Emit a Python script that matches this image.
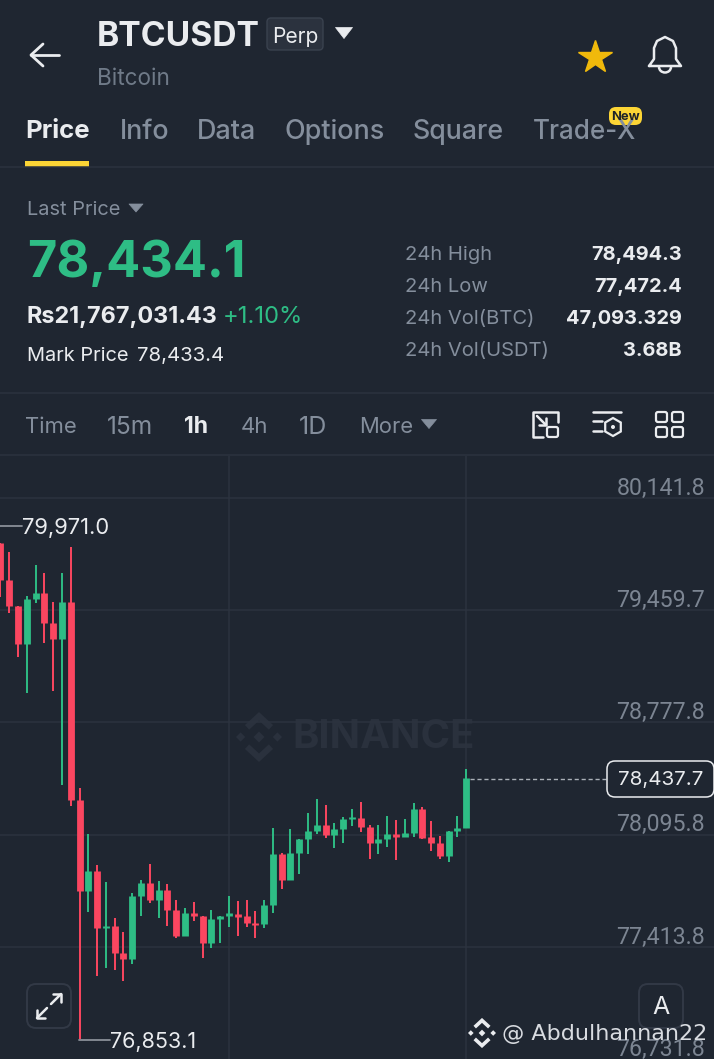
import numpy as np, pandas as pd, seaborn as sns
import matplotlib
matplotlib.use("Agg")
import matplotlib.pyplot as plt
from matplotlib.patches import FancyBboxPatch, Polygon, Circle, Rectangle, Arc

# ---------- data ----------
opens = [79868,79643,79486,79255,79528,79564,79382,79285,79510,78307,77754,77875,77529,77541,77377,77341,77723,77803,77699,77760,77638,77481,77620,77602,77438,77584,77602,77614,77602,77559,77553,77669,77979,77821,77985,78070,78118,78155,78094,78131,78191,78197,78143,78046,78070,78100,78082,78106,78252,78082,78046,77966,78118,78137]
closes = [79643,79486,79255,79528,79564,79382,79285,79510,78307,77754,77875,77529,77541,77377,77341,77723,77803,77699,77760,77638,77481,77620,77602,77438,77584,77602,77620,77596,77559,77547,77669,77979,77821,77985,78070,78118,78155,78094,78131,78191,78203,78143,78046,78070,78100,78082,78106,78252,78076,78046,77966,78118,78137,78437.7]
highs = [79868,79814,79486,79546,79735,79686,79510,79686,79844,78380,78100,77912,77809,77590,77505,77742,77821,77918,77815,77797,77699,77650,77687,77602,77638,77602,77723,77693,77699,77632,77699,78137,77985,78131,78070,78228,78313,78276,78167,78203,78252,78295,78155,78155,78209,78185,78191,78288,78264,78179,78088,78118,78209,78495]
lows = [79540,79443,79176,78957,79504,79261,78969,78398,78270,76853.1,77626,77237,77286,77274,77207,77310,77602,77681,77590,77541,77468,77481,77572,77347,77408,77438,77535,77481,77535,77468,77529,77620,77766,77821,77857,77979,78100,78076,78015,78046,78149,78112,77948,77979,78021,77942,78082,78082,78070,77997,77948,77930,78082,78137]
tick_prices = [80141.8,79459.7,78777.8,78095.8,77413.8,76731.8]
tick_labels = ["80,141.8","79,459.7","78,777.8","78,095.8","77,413.8","76,731.8"]
vgrid_candles = [26,53]
timeframes = ["Time","15m","1h","4h","1D","More"]
tabs = ["Price","Info","Data","Options","Square","Trade-X"]
stat_names = ["24h High","24h Low","24h Vol(BTC)","24h Vol(USDT)"]
stat_values = ["78,494.3","77,472.4","47,093.329","3.68B"]

# ---------- colours ----------
BG="#1f2631"; GREEN="#2ebd85"; RED="#fb4660"; GRID="#2c333f"; GRAY="#848e9c"; WHITE="#eaecef"; YEL="#fcd535"

sns.set_theme(style="dark", rc={"axes.facecolor":BG,"figure.facecolor":BG})
plt.rcParams['font.family']=['Inter','DejaVu Sans']

W,H=714,1059
fig=plt.figure(figsize=(W/100,H/100),dpi=100,facecolor=BG)
TOP=456
under=fig.add_axes([0,0,1,1],facecolor='none',zorder=0); under.set_xlim(0,W); under.set_ylim(H,0); under.axis('off')
ax=fig.add_axes([0,0,1,(H-TOP)/H],facecolor='none',zorder=1)
ui=fig.add_axes([0,0,1,1],facecolor='none',zorder=2); ui.set_xlim(0,W); ui.set_ylim(H,0); ui.axis('off')

# ---------- candles through seaborn ----------
n=len(opens)
df=pd.DataFrame(dict(i=range(n),o=opens,c=closes,h=highs,l=lows))
df['dir']=np.where(df.c>=df.o,'up','down')
wick=pd.concat([df.assign(price=df.h),df.assign(price=df.l)])
body=pd.concat([df.assign(price=df.o),df.assign(price=df.c)])
pal={'up':GREEN,'down':RED}
sns.lineplot(data=wick,x='i',y='price',hue='dir',units='i',estimator=None,palette=pal,lw=1.4,legend=False,ax=ax,sort=False,zorder=3,solid_capstyle='butt')
sns.lineplot(data=body,x='i',y='price',hue='dir',units='i',estimator=None,palette=pal,lw=4.9,legend=False,ax=ax,sort=False,zorder=4,solid_capstyle='butt')

px=8.79
ax.set_xlim(-0.4/px,(W-0.4)/px)
ax.set_ylim(76733.2,80397)
ax.set_xticks(vgrid_candles); ax.set_yticks(tick_prices[:-1])
ax.set_xticklabels([]); ax.set_yticklabels([]); ax.set_xlabel(''); ax.set_ylabel('')
ax.tick_params(length=0)
ax.grid(True,color=GRID,lw=1.1); ax.set_axisbelow(True)
sns.despine(ax=ax,left=True,bottom=True,top=True,right=True)

for p,l in zip(tick_prices,tick_labels):
    ax.annotate(l,xy=(1,p),xycoords=('axes fraction','data'),xytext=(-9,10),textcoords='offset pixels',ha='right',va='center',color='#7c8592',fontsize=16.7,family='Roboto',annotation_clip=False,zorder=6)

# ---------- helper ----------
def T(x,y,s,size,c=WHITE,w='normal',ha='left',**k):
    return ui.text(x,y+2,s,fontsize=size*0.72,color=c,fontweight=w,ha=ha,va='center',**k)
def rbox(x0,y0,x1,y1,r,ec,fc='none',lw=1.2,**k):
    ui.add_patch(FancyBboxPatch((x0+r,y0+r),x1-x0-2*r,y1-y0-2*r,boxstyle=f"round,pad={r},rounding_size={r}",ec=ec,fc=fc,lw=lw,**k))
def line(xs,ys,c=WHITE,lw=1.5,**k):
    ui.plot(xs,ys,color=c,lw=lw,solid_capstyle='round',**k)
def tri(x,y,w,h,c):
    ui.add_patch(Polygon([(x-w/2,y-h/2),(x+w/2,y-h/2),(x,y+h/2)],fc=c,ec=c,lw=.5,joinstyle='round'))
def logo(a,cx,cy,s,c,lw,**k):
    """Binance mark: two chevrons, side and centre diamonds (s = half extent in px)."""
    for sg in (-1,1):
        a.plot([cx-.52*s,cx,cx+.52*s],[cy+sg*.42*s,cy+sg*.9*s,cy+sg*.42*s],color=c,lw=lw,solid_joinstyle='miter',solid_capstyle='butt',**k)
    for dx,dy,r in [(-.8,0,.2),(.8,0,.2),(0,0,.24)]:
        a.add_patch(Polygon([(cx+dx*s-r*s,cy),(cx+dx*s,cy-r*s),(cx+dx*s+r*s,cy),(cx+dx*s,cy+r*s)],fc=c,ec='none',**k))

# ---------- header ----------
line([31,59],[55,55],lw=2); line([43,31,43],[44,55,66],lw=2)
T(97,35,"BTCUSDT",33.6,w='bold')
rbox(267,18,323,50,4,'#3a424f','#2b323e',1)
T(295,35,"Perp",21,ha='center')
tri(344,33,17,11,WHITE)
T(97,77,"Bitcoin",22.5,'#6f7a88')
ui.plot([595],[57],marker='*',ms=25,color='#f0b90b',mec='#f0b90b',zorder=5)
bx=[649,654,654,657,665,673,676,676,681,649]; by=[66,59,48,41,37,41,48,59,66,66]
line(bx,by,lw=1.8); ui.add_patch(Arc((665,67),12,11,theta1=0,theta2=180,ec=WHITE,lw=1.8))
for x,s,c,sz in zip([25,120,197,285,413,533],tabs,[WHITE]+[GRAY]*5,[25.8,26.8,27,26.9,26.8,26]):
    T(x,130,s,sz,c,'bold' if c==WHITE else 'medium')
ui.add_patch(Rectangle((25,161),64,6,fc=YEL,ec='none'))
rbox(609,107,642,125,7,'none',YEL)
T(625.5,115,"New",13,'#1e2329','bold',ha='center')
line([0,714],[167,167],GRID,1.1)

# ---------- price block ----------
T(27,261,"78,434.1",50.5,GREEN,'bold')
T(27,208,"Last Price",20,GRAY); tri(136,208,14,8,GRAY)
T(27,315,"Rs21,767,031.43",23.4,WHITE,'bold')
T(223,315,"+1.10%",23.8,GREEN)
T(27,354,"Mark Price",20); T(137,354,"78,433.4",20.3)
for y,a,b in zip([253,285,317,349],stat_names,stat_values):
    T(405,y,a,20.2,GRAY); T(682,y,b,20,WHITE,'bold',ha='right')
line([0,714],[393,393],GRID,1.1)

# ---------- timeframes ----------
for x,s,sz in zip([25,107,184,241,299,359],timeframes,[22,24.5,23,22.3,25,22]):
    T(x,425,s,sz,WHITE if s=="1h" else GRAY,'bold' if s=="1h" else 'normal')
tri(429,424,15,9,GRAY)
# icons
line([543,533,533,558,558],[437,437,412,412,422],lw=1.8)
rbox(547,427,558,437,2,WHITE,lw=1.6)
line([537,546],[416,425],lw=1.8); line([546,546,539],[418,425,425],lw=1.8)
line([593,621],[412,412],lw=1.8); line([593,602],[421,421],lw=1.8); line([593,602],[431,431],lw=1.8)
hx=613;hy=427;hexa=[(hx+9*np.cos(a),hy+9*np.sin(a)) for a in np.radians(np.arange(30,390,60))]
ui.add_patch(Polygon(hexa,fc='none',ec=WHITE,lw=1.6)); ui.add_patch(Circle((hx,hy),2.0,fc=WHITE,ec='none'))
for x,y in [(656,412),(672,412),(656,427),(672,427)]:
    rbox(x,y,x+11,y+10,2,WHITE,lw=1.6)
line([0,714],[455,455],GRID,1.1)

# ---------- chart annotations ----------
line([0,22],[526,526],'#8a9099',1.3); T(22,526,"79,971.0",22)
line([79,110],[1040,1040],'#8a9099',1.3); T(110,1040,"76,853.1",21.5)
ui.plot([470,606],[778.5,778.5],color='#aab0b8',lw=1,ls=(0,(3,2)))
rbox(607,761,714,797,8,WHITE,BG,1.1,zorder=6)
T(661,778,"78,437.7",20.5,ha='center',zorder=7)

# BINANCE watermark below the candles
wm='#2a313d'
under.text(292,737,"BINANCE",ha='left',va='center',fontsize=29*0.72*1.38,fontweight='bold',color=wm)
logo(under,259,737,23,wm,4.5)

# buttons
rbox(27,984,71,1028,9,'#323946',BG,1.4)
line([37,47],[1018,1008],lw=1.8);line([37,37,45],[1010,1018,1018],lw=1.8)
line([51,61],[1004,994],lw=1.8);line([53,61,61],[994,994,1002],lw=1.8)
rbox(639,984,683,1028,9,'#323946',BG,1.4)
T(661,1005,"A",25,ha='center')

# author mark
logo(ui,482,1033,14,WHITE,2.6)
T(502,1032,"@ Abdulhannan22",22.3,'#d8dbe0',family='DejaVu Sans',zorder=8)

fig.savefig("out.png",dpi=100,facecolor=BG)
